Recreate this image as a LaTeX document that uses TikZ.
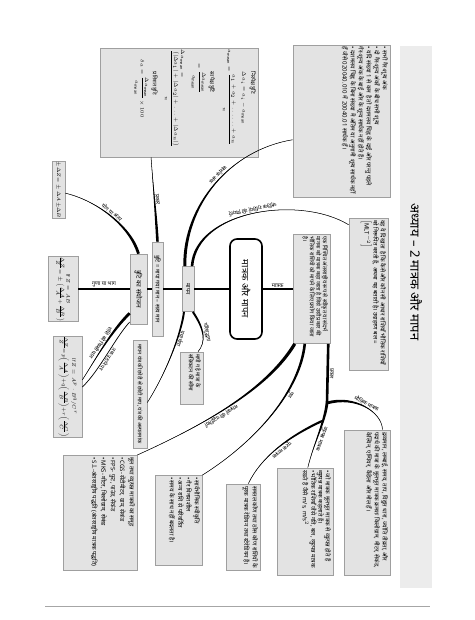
\documentclass[tikz,border=0pt]{standalone}
\usepackage{amsmath}
\usepackage{fontspec}
\setmainfont{Noto Sans}[Script=Devanagari]
\usetikzlibrary{calc}

% tapering branch: start, control 1, control 2, end, half width at start
\newcommand{\taper}[5]{%
  \fill ($(#1)!#5!90:(#2)$) .. controls ($(#2)!#5!-90:(#1)$) and (#3) .. (#4)
    .. controls (#3) and ($(#2)!#5!90:(#1)$) .. ($(#1)!#5!-90:(#2)$) -- cycle;
  \draw[line width=0.5pt] (#1) .. controls (#2) and (#3) .. (#4)}

\tikzset{
  infobox/.style={draw=gray!75, fill=gray!22, line width=0.7pt, inner sep=2pt,
    font=\fontsize{6}{7.2}\selectfont},
  mathbox/.style={draw=gray!75, fill=gray!22, line width=0.7pt, inner sep=0pt,
    font=\fontsize{4.6}{5.5}\selectfont, align=center},
  hubbox/.style={draw=gray!75, fill=gray!22, line width=0.7pt, inner sep=0pt,
    font=\fontsize{5.8}{6.5}\selectfont},
  mainbox/.style={draw, line width=1.6pt, rounded corners=7pt, fill=white,
    inner sep=0pt, font=\bfseries\fontsize{9.5}{10}\selectfont},
  lbl/.style={font=\fontsize{5.4}{6}\selectfont, sloped, inner sep=1pt},
  spine/.style={line width=2.6pt},
}

\begin{document}
\begin{tikzpicture}[rotate=-90, transform shape, x=1pt, y=1pt]
\useasboundingbox (0,0) rectangle (620,474);

\node[fill=gray!15, minimum width=542, minimum height=32, inner sep=0pt] (band) at (317,416) {};
\node[font=\bfseries\fontsize{13}{15}\selectfont] (title) at (272,416) {अध्याय – 2 मात्रक और मापन};
\draw[gray!70, line width=0.6pt] (606,45) -- (606,430);

% hubs
\node[mainbox, minimum width=100, minimum height=32] (core) at (289,246) {मात्रक और मापन};
\node[hubbox, minimum width=45, minimum height=12] (meas) at (289,188) {मापन};
\node[hubbox, minimum width=94, minimum height=11] (errdef) at (289,157.5) {त्रुटि = मापा गया मान – सत्य मान};
\node[hubbox, minimum width=70, minimum height=17, font=\fontsize{6.6}{7}\selectfont] (errcomb) at (289,138.5) {त्रुटि का संयोजन};

% boxes
\node[infobox] (unitdef) at (289,311.5) {\parbox[c][33pt][t]{105pt}{\raggedright\fontsize{5.6}{6.6}\selectfont
  एक निश्चित अंतरराष्ट्रीय रूप से स्वीकृत या संदर्भ मानक को मात्रक कहा जाता है जिसे उसी प्रकार की भौतिक राशियों को मापने के लिए प्रयोग किया जाता है।}};
\node[infobox] (sigfig) at (121,341.5) {\parbox[c][93pt][t]{148pt}{\raggedright\fontsize{6}{8}\selectfont
  \textbullet\ सभी गैर-शून्य अंक\par
  \textbullet\ दो गैर-शून्य अंकों के बीच सभी शून्य\par
  \textbullet\ यदि संख्या 1 से कम है तो दशमलव चिह्न के दाईं ओर परन्तु पहले गैर-शून्य अंक के बाईं ओर के शून्य सार्थक नहीं होते हैं।\par
  \textbullet\ दशमलव चिह्न के बिना संख्या में अंतिम या अनुगामी शून्य सार्थक नहीं हैं जैसे 020040.010 में 20040.01 सार्थक हैं।}};
\node[infobox] (dimen) at (294,368.5) {\parbox[c][35pt][t]{148pt}{\raggedright
  यह ये दिखाता है कि कैसे और कौन सी आधार राशियाँ भौतिक राशियों को निरूपित करती हैं, अथवा यह बताती है। उदाहरण बल = $\left[\mathrm{MLT}^{-2}\right]$}};
\node[infobox] (baseu) at (502.5,367) {\parbox[c][42pt][t]{141pt}{\raggedright\fontsize{6}{8}\selectfont
  द्रव्यमान, लम्बाई, समय, ताप, विद्युत धारा, ज्योति तीव्रता, और पदार्थ की मात्रा के मूलभूत मात्रक क्रमशः किलोग्राम, मीटर, सेकंड, केल्विन, एम्पियर, कैंडेला और मोल हैं।}};
\node[infobox] (derived) at (521.5,305) {\parbox[c][52pt][t]{103pt}{\raggedright
  \textbullet\ जो मात्रक मूलभूत मात्रक से व्युत्पन्न होते हैं व्युत्पन्न मात्रक कहलाते हैं।\par
  \textbullet\ भौतिक राशियाँ जैसे गति, बल, व्युत्पन्न मात्रक रखते हैं जैसे m/s, m/s$^2$}};
\node[infobox] (suppl) at (527,243) {\parbox[c][30pt][t]{82pt}{\raggedright\fontsize{6}{8.5}\selectfont
  समतल कोण तथा ठोस कोण राशियों के पूरक मात्रक रेडियन तथा स्टेरेडियन हैं।}};
\node[infobox] (props) at (520,178.5) {\parbox[c][43pt][t]{86pt}{\raggedright\fontsize{6}{8.3}\selectfont
  \textbullet\ सार्वभौमिक स्वीकृति\par
  \textbullet\ गैर विनाशशील\par
  \textbullet\ अन्य राशि से परिवर्तित\par
  \textbullet\ समय के साथ नहीं बदलता है।}};
\node[infobox] (systems) at (512.5,100) {\parbox[c][70pt][t]{111pt}{\raggedright\fontsize{6}{9.4}\selectfont
  मूल तथा व्युत्पन्न मात्रकों का समूह\par
  \textbullet\ CGS- सेंटीमीटर, ग्राम, सेकंड\par
  \textbullet\ FPS- फुट, पाउंड, सेकंड\par
  \textbullet\ MKS- मीटर, किलोग्राम, सेकंड\par
  \textbullet\ S.I.-अंतरराष्ट्रीय पद्धति (अंतरराष्ट्रीय मात्रक पद्धति)}};
\node[infobox, minimum width=108, minimum height=14, inner sep=0pt, font=\fontsize{5.4}{6}\selectfont] (leastc) at (394,140) {मापन यंत्र की छोटी से छोटी माप, यंत्र की अल्पतमांक};
\node[infobox] (precis) at (378,191.5) {\parbox[c][19pt][t]{48pt}{\raggedright\fontsize{5.6}{7}\selectfont
  मापी गई मात्रा के सन्निकटन की सीमा}};
\node[infobox, font=\fontsize{5.4}{6.5}\selectfont] (errtype) at (102.5,179) {\parbox[c][154pt][t]{105pt}{\raggedright
  \hspace*{22pt}निरपेक्ष त्रुटि\\[2pt]
  \hspace*{22pt}$\Delta a_i = a_i - a_{\mathrm{mean}}$\\[4pt]
  $a_{\mathrm{mean}} = \dfrac{a_1 + a_2 + \ldots\ldots + a_n}{n}$\\[7pt]
  \hspace*{22pt}सापेक्ष त्रुटि\\[2pt]
  \hspace*{14pt}$= \dfrac{\Delta a_{\mathrm{mean}}}{a_{\mathrm{mean}}}$\\[6pt]
  $\Delta a_{\mathrm{mean}} = \dfrac{\big(|\Delta a_1| + |\Delta a_2| + \ldots + |\Delta a_n|\big)}{n}$\\[6pt]
  \hspace*{22pt}प्रतिशत त्रुटि\\[2pt]
  \hspace*{10pt}$\delta a = \dfrac{\Delta a_{\mathrm{mean}}}{a_{\mathrm{mean}}}\times 100$}};
\node[mathbox, minimum width=56, minimum height=13] (sumdiff) at (190,58.5) {$\pm\Delta Z{=}\pm\Delta A{\pm}\Delta B$};
\node[mathbox, minimum width=54, minimum height=30] (prod) at (289,63) {If $Z = AB$\\[1pt]
  $\frac{\Delta Z}{Z}{=}\pm\Bigl(\frac{\Delta A}{A}{+}\frac{\Delta B}{B}\Bigr)$};
\node[mathbox, minimum width=83, minimum height=29, font=\fontsize{4.4}{5.5}\selectfont] (power) at (386.5,67.5) {If $Z = A^p\cdot B^q/C^r$\\[1pt]
  $\frac{\Delta Z}{Z}{=}p\Bigl(\frac{\Delta A}{A}\Bigr){+}q\Bigl(\frac{\Delta B}{B}\Bigr){+}r\Bigl(\frac{\Delta C}{C}\Bigr)$};

% spine
\draw[spine] (core.south) -- (meas.north);
\draw[spine] (meas.south) -- (errdef.north);
\draw[spine] (errdef.south) -- (errcomb.north);
\draw[spine] (prod.north) -- (errcomb.south) node[lbl, midway, above] {गुणा या भाग};
\draw[line width=1.2pt] (core.north) -- (unitdef.south) node[lbl, midway, above] {मात्रक};

% measurement side
\taper{meas.188}{205,184}{150,230}{sigfig.-69}{1.5pt} node[lbl, pos=.55, below] {सार्थक अंक};
\taper{meas.170}{210,196}{195,300}{dimen.196}{1.3pt} node[lbl, pos=.5, below] {भौतिक राशियों की विमाएँ};
\taper{meas.12}{330,205}{342,206}{precis.166}{1pt} node[lbl, pos=.45, above] {परिशुद्धता};
\taper{meas.-10}{330,182}{370,168}{leastc.41}{1pt} node[lbl, pos=.35, above] {यथार्थता};
\taper{errdef.west}{215,156}{185,153}{errtype.-27}{1.3pt} node[lbl, pos=.5, above] {प्रकार};
\taper{errcomb.west}{225,130}{200,95}{sumdiff.65}{1.4pt} node[lbl, pos=.5, above] {योग या अंतर};
\taper{errcomb.-20}{330,112}{360,95}{power.114}{1.4pt} node[lbl, pos=.5, below] {राशि को किसी घात};
\draw[line width=0.7pt] (errcomb.-15) .. controls (338,115) and (370,100) .. (power.88) node[lbl, pos=.55, above] {तक उठाने पर};

% unit side
\coordinate (jn) at (403,327);
\coordinate (jn2) at (421,322);
\draw[spine] (unitdef.17) -- (jn) node[lbl, midway, above] {प्रकार};
\taper{jn}{395,355}{412,382}{baseu.168}{1.4pt} node[lbl, pos=.5, above] {मौलिक मात्रक};
\taper{jn}{422,325}{445,313}{derived.177}{1.4pt} node[lbl, pos=.55, above] {व्युत्पन्न मात्रक};
\taper{jn2}{435,292}{455,262}{suppl.173}{1.1pt} node[lbl, pos=.5, above] {पूरक मात्रक};
\taper{unitdef.-7}{390,300}{440,258}{props.152}{1.3pt} node[lbl, pos=.35, above] {गुण};
\taper{unitdef.-17}{385,270}{420,215}{systems.147}{1.6pt} node[lbl, pos=.6, above] {मात्रकों की पद्धतियाँ};
\end{tikzpicture}
\end{document}
